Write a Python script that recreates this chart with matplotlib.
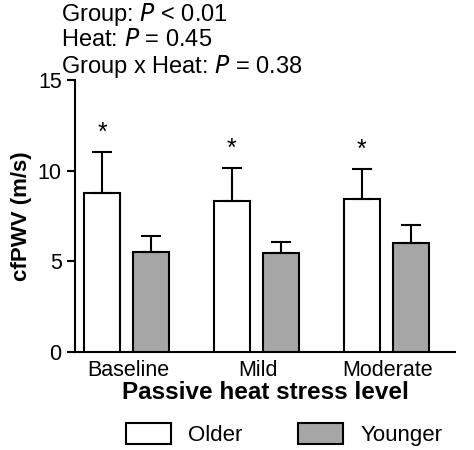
import matplotlib
matplotlib.use("Agg")
import matplotlib.pyplot as plt
import numpy as np
from matplotlib.patches import Patch

plt.rcParams['font.family'] = ['Liberation Sans', 'DejaVu Sans']

categories = ["Baseline", "Mild", "Moderate"]
older = [8.77, 8.33, 8.44]
older_sd = [2.26, 1.82, 1.66]
younger = [5.5, 5.46, 6.0]
younger_sd = [0.9, 0.61, 1.0]

fig = plt.figure(figsize=(4.74, 4.5), dpi=100)
ax = fig.add_axes([0.158, 0.218, 0.802, 0.604])
x = np.arange(len(categories))
w = 0.277
ax.bar(x - 0.2, older, w, color='white', edgecolor='black', linewidth=1.5,
       yerr=[np.zeros(3), older_sd], error_kw=dict(ecolor='black', elinewidth=1.5, capsize=7, capthick=1.5), zorder=3)
ax.bar(x + 0.18, younger, w, color='#a6a6a6', edgecolor='black', linewidth=1.5,
       yerr=[np.zeros(3), younger_sd], error_kw=dict(ecolor='black', elinewidth=1.5, capsize=7, capthick=1.5), zorder=3)
for i in range(3):
    ax.text(x[i] - 0.2, older[i] + older_sd[i] + 0.4, "*", ha='center', va='bottom', fontsize=18)

ax.set_xlim(-0.41, 2.52)
ax.set_ylim(0, 15)
ax.set_yticks([0, 5, 10, 15])
ax.set_xticks(x)
ax.set_xticklabels(categories, fontsize=15.5)
ax.tick_params(axis='y', labelsize=15.5, width=1.5, length=6)
ax.tick_params(axis='x', length=0, pad=6)
for s in ['top', 'right']:
    ax.spines[s].set_visible(False)
for s in ['left', 'bottom']:
    ax.spines[s].set_linewidth(1.5)
ax.set_ylabel("cfPWV (m/s)", fontsize=16, fontweight='bold')
ax.set_xlabel("Passive heat stress level", fontsize=17.5, fontweight='bold', labelpad=0)

fig.text(0.128, 0.968, "Group: $\\it{P}$ < 0.01", fontsize=17, va='center')
fig.text(0.128, 0.912, "Heat: $\\it{P}$ = 0.45", fontsize=17, va='center')
fig.text(0.128, 0.853, "Group x Heat: $\\it{P}$ = 0.38", fontsize=17, va='center')

handles = [Patch(facecolor='white', edgecolor='black', linewidth=1.5, label='Older'),
           Patch(facecolor='#a6a6a6', edgecolor='black', linewidth=1.5, label='Younger')]
fig.legend(handles=handles, loc='center', bbox_to_anchor=(0.6, 0.035), ncol=2, frameon=False,
           fontsize=16, handlelength=2.0, handleheight=1.1, columnspacing=2.5)

fig.savefig("out.png", dpi=100)
